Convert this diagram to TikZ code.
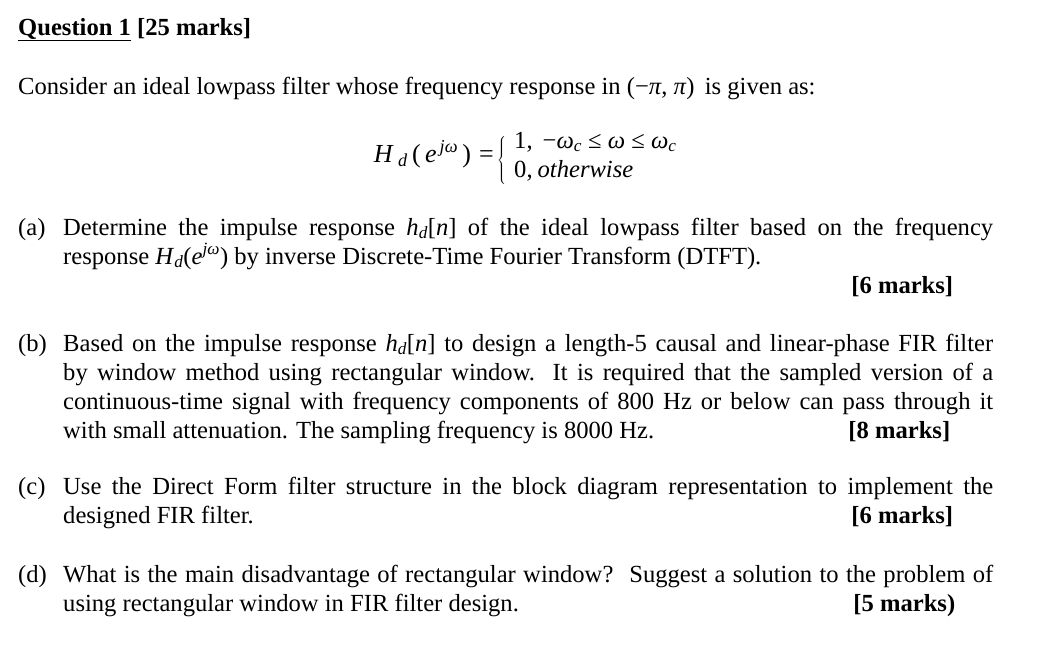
\documentclass[tikz,border=0pt]{standalone}
\usepackage{fontspec}
\setmainfont{Liberation Serif}
\newcommand{\mi}[1]{\textit{#1}}
\newcommand{\hd}{\mi{h}\textsubscript{\mi{d}}[\mi{n}]}
\newcommand{\Hd}{\mi{H}\textsubscript{\mi{d}}(\mi{e}\textsuperscript{\mi{jω}})}
\tikzset{txt/.style={anchor=base west,inner sep=0pt,font=\fontsize{24.6pt}{29pt}\selectfont},
 para/.style={txt,text width=930pt,align=justify}}
\begin{document}
\begin{tikzpicture}[x=1pt,y=-1pt]
\useasboundingbox (0,0) rectangle (1057,649);
\node[txt] (q) at (18,35) {\textbf{\underline{Question 1} [25 marks]}};
\node[txt] (c) at (18,94) {Consider an ideal lowpass filter whose frequency response in (−\mi{π}, \mi{π})\, is given as:};
\node[txt,anchor=base east,font=\fontsize{26pt}{29pt}\selectfont] (h) at (494,162) {\mi{H}\,\textsubscript{\mi{d}}\,(\,\mi{e}\textsuperscript{\,\mi{jω}}\,)\hspace{8pt}=};
\node[inner sep=0pt,anchor=west] (br) at (497,160) {\fontsize{24.6pt}{29pt}\selectfont$\left\{\vphantom{\rule{0pt}{30pt}}\right.$};
\node[txt] (l1) at (514,148) {1,\hspace{10pt}−\mi{ω}\textsubscript{\mi{c}} ≤ \mi{ω} ≤ \mi{ω}\textsubscript{\mi{c}}};
\node[txt] (l2) at (514,177) {0,\hspace{5pt}\mi{otherwise}};
\node[txt] (a) at (18,235) {(a)};
\node[para] (at) at (63,235) {Determine the impulse response \hd{} of the ideal lowpass filter based on the frequency\linebreak response \Hd{} by inverse Discrete-Time Fourier Transform (DTFT).\\ \hspace*{\fill}\textbf{[6 marks]}\hspace*{40pt}\mbox{}};
\node[txt] (b) at (18,351) {(b)};
\node[para] (bt) at (63,351) {Based on the impulse response \hd{} to design a length-5 causal and linear-phase FIR filter\linebreak by window method using rectangular window. It is required that the sampled version of a\linebreak continuous-time signal with frequency components of 800 Hz or below can pass through it\linebreak with small attenuation. The sampling frequency is 8000 Hz.\hspace*{\fill}\textbf{[8 marks]}\hspace*{43pt}\mbox{}};
\node[txt] (cc) at (18,494) {(c)};
\node[para] (ct) at (63,494) {Use the Direct Form filter structure in the block diagram representation to implement the\linebreak designed FIR filter.\hspace*{\fill}\textbf{[6 marks]}\hspace*{40pt}\mbox{}};
\node[txt] (d) at (18,582) {(d)};
\node[para] (dt) at (63,582) {What is the main disadvantage of rectangular window?\, Suggest a solution to the problem of\linebreak using rectangular window in FIR filter design.\hspace*{\fill}\textbf{[5 marks)}\hspace*{38pt}\mbox{}};
\end{tikzpicture}
\end{document}
